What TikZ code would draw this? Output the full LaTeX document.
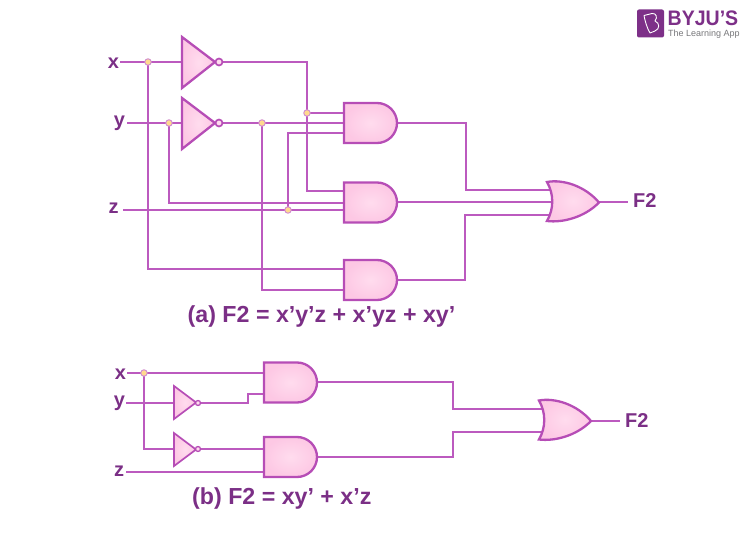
\documentclass[tikz,border=0pt]{standalone}
\usepackage{fontspec}
\setmainfont{Liberation Sans}
\definecolor{wirec}{HTML}{BC5ABF}
\definecolor{edgec}{HTML}{B64DB6}
\definecolor{txtc}{HTML}{7B2F86}
\definecolor{fillin}{HTML}{FFDCEE}
\definecolor{fillout}{HTML}{FDC8E4}
\definecolor{dotc}{HTML}{FFD98E}
\definecolor{logoc}{HTML}{7D3088}
\definecolor{greyc}{HTML}{77777A}
\tikzset{
  wire/.style={draw=wirec,line width=2.3pt,line join=miter},
  gatebody/.style={draw=edgec,line width=2.3pt,line join=miter,inner color=fillin,outer color=fillout},
  smallgate/.style={gatebody,line width=1.7pt},
  bubble/.style={circle,draw=edgec,fill=fillin,line width=1.7pt,inner sep=0pt,minimum size=7pt},
  smallbubble/.style={bubble,line width=1.3pt,minimum size=5pt},
  junction/.style={circle,draw=wirec!70,fill=dotc,line width=0.9pt,inner sep=0pt,minimum size=6.5pt},
  sig/.style={font=\fontsize{20}{24}\selectfont\bfseries,text=txtc,inner sep=0pt},
  caption/.style={font=\fontsize{23.2}{28}\selectfont\bfseries,text=txtc,inner sep=0pt,anchor=west}
}
\newcommand{\andgate}[3]{\path[gatebody] (#2,#3) coordinate (#1) -- ++(33,0) arc[start angle=90,end angle=-90,radius=20pt] -- ++(-33,0) -- cycle;}
\newcommand{\orgate}[2]{\path[gatebody] (#1,#2) .. controls (#1+16,#2-3) and (#1+38,#2+4) .. (#1+52,#2+20.5) .. controls (#1+38,#2+35) and (#1+16,#2+41) .. (#1,#2+39) .. controls (#1+7,#2+27) and (#1+7,#2+12) .. (#1,#2) -- cycle;}
\begin{document}
\begin{tikzpicture}[x=1pt,y=-1pt]
\useasboundingbox (0,0) rectangle (750,540);
\coordinate (ax0) at (120,62);
\coordinate (ay0) at (127,123);
\coordinate (az0) at (123,210);
\coordinate (axj) at (148,62);
\coordinate (ayj) at (169,123);
\coordinate (ainv1) at (182,62);
\coordinate (ainv2) at (182,123);
\coordinate (ab1) at (219,62);
\coordinate (ab2) at (219,123);
\coordinate (anxj) at (307,113);
\coordinate (anx) at (307,62);
\coordinate (anyj) at (262,123);
\coordinate (azj) at (288,210);
\coordinate (a1a) at (346,113);
\coordinate (a1b) at (346,123);
\coordinate (a1c) at (346,133);
\coordinate (a2a) at (346,191);
\coordinate (a2b) at (346,203);
\coordinate (a2c) at (346,210);
\coordinate (a3a) at (346,269);
\coordinate (a3b) at (346,290);
\coordinate (a1o) at (397,123);
\coordinate (a2o) at (397,202);
\coordinate (a3o) at (397,280);
\coordinate (aor1) at (552,190);
\coordinate (aor2) at (553,202);
\coordinate (aor3) at (552,215);
\coordinate (aoo) at (599,202);
\coordinate (aF) at (628,202);
\coordinate (a1bend) at (466,123);
\coordinate (a3bend) at (465,280);
\draw[wire] (ax0) -- (ainv1);
\draw[wire] (ay0) -- (ainv2);
\draw[wire] (az0) -- (a2c);
\draw[wire] (axj) |- (a3a);
\draw[wire] (ayj) |- (a2b);
\draw[wire] (ab1) -- (anx) |- (a2a);
\draw[wire] (anxj) -- (a1a);
\draw[wire] (ab2) -- (a1b);
\draw[wire] (anyj) |- (a3b);
\draw[wire] (azj) |- (a1c);
\draw[wire] (a1o) -- (a1bend) |- (aor1);
\draw[wire] (a2o) -- (aor2);
\draw[wire] (a3o) -- (a3bend) |- (aor3);
\draw[wire] (aoo) -- (aF);
\path[gatebody] (182,37) -- (215,62) -- (182,88) -- cycle;
\path[gatebody] (182,98) -- (215,123) -- (182,149) -- cycle;
\andgate{ag1}{344}{103}
\andgate{ag2}{344}{182.5}
\andgate{ag3}{344}{260}
\orgate{547}{182}
\node[bubble] (abub1) at (ab1) {};
\node[bubble] (abub2) at (ab2) {};
\node[junction] (jax) at (axj) {};
\node[junction] (jay) at (ayj) {};
\node[junction] (janx) at (anxj) {};
\node[junction] (jany) at (anyj) {};
\node[junction] (jaz) at (azj) {};
\node[sig] (lax) at (113.5,63) {x};
\node[sig] (lay) at (119.5,123) {y};
\node[sig] (laz) at (113.5,208) {z};
\node[sig,anchor=west] (laF) at (633,201) {F2};
\node[caption] (capa) at (187.5,317) {(a) F2 = x’y’z + x’yz + xy’};
\coordinate (bx0) at (127,373);
\coordinate (by0) at (126,403);
\coordinate (bz0) at (126,472);
\coordinate (bxj) at (144,373);
\coordinate (bi1) at (174,403);
\coordinate (bi2) at (174,449);
\coordinate (bb1) at (198,403);
\coordinate (bb2) at (198,449);
\coordinate (bk1) at (248,403);
\coordinate (bk2) at (248,394);
\coordinate (b1a) at (266,373);
\coordinate (b1b) at (266,394);
\coordinate (b2a) at (266,449);
\coordinate (b2b) at (266,472);
\coordinate (b1o) at (318,382);
\coordinate (b2o) at (318,457);
\coordinate (bm1) at (453,382);
\coordinate (bm2) at (453,457);
\coordinate (bor1) at (544,409);
\coordinate (bor2) at (544,432);
\coordinate (boo) at (591,421);
\coordinate (bF) at (620,421);
\draw[wire] (bx0) -- (b1a);
\draw[wire] (by0) -- (bi1);
\draw[wire] (bz0) -- (b2b);
\draw[wire] (bxj) |- (bi2);
\draw[wire] (bb1) -- (bk1) -- (bk2) -- (b1b);
\draw[wire] (bb2) -- (b2a);
\draw[wire] (b1o) -- (bm1) |- (bor1);
\draw[wire] (b2o) -- (bm2) |- (bor2);
\draw[wire] (boo) -- (bF);
\path[smallgate] (174,386) -- (196,402.5) -- (174,419) -- cycle;
\path[smallgate] (174,433) -- (196,449.5) -- (174,466) -- cycle;
\andgate{bg1}{264}{362.5}
\andgate{bg2}{264}{437}
\orgate{539}{400.5}
\node[smallbubble] (bbub1) at (bb1) {};
\node[smallbubble] (bbub2) at (bb2) {};
\node[junction] (jbx) at (bxj) {};
\node[sig] (lbx) at (120.5,374) {x};
\node[sig] (lby) at (119.5,403) {y};
\node[sig] (lbz) at (119,471) {z};
\node[sig,anchor=west] (lbF) at (625,421) {F2};
\node[caption] (capb) at (192,498) {(b) F2 = xy’ + x’z};
\fill[logoc,rounded corners=2pt] (637,9.5) rectangle (664,37.5);
\draw[white,line width=0.9pt,line join=round] (644,15.5) -- (652,13.5) .. controls (656,13) and (658,17) .. (655,21) .. controls (660,23) and (660,29) .. (655,31) -- (650,33) .. controls (647,28) and (645,21) .. (644,15.5) -- cycle;
\node[font=\fontsize{21}{24}\selectfont\bfseries,text=logoc,inner sep=0pt,anchor=west] (logotxt) at (667.5,18) {\scalebox{0.93}[1]{BYJU’S}};
\node[font=\fontsize{9}{11}\selectfont,text=greyc,inner sep=0pt,anchor=west] (logosub) at (668,34) {The Learning App};
\end{tikzpicture}
\end{document}
